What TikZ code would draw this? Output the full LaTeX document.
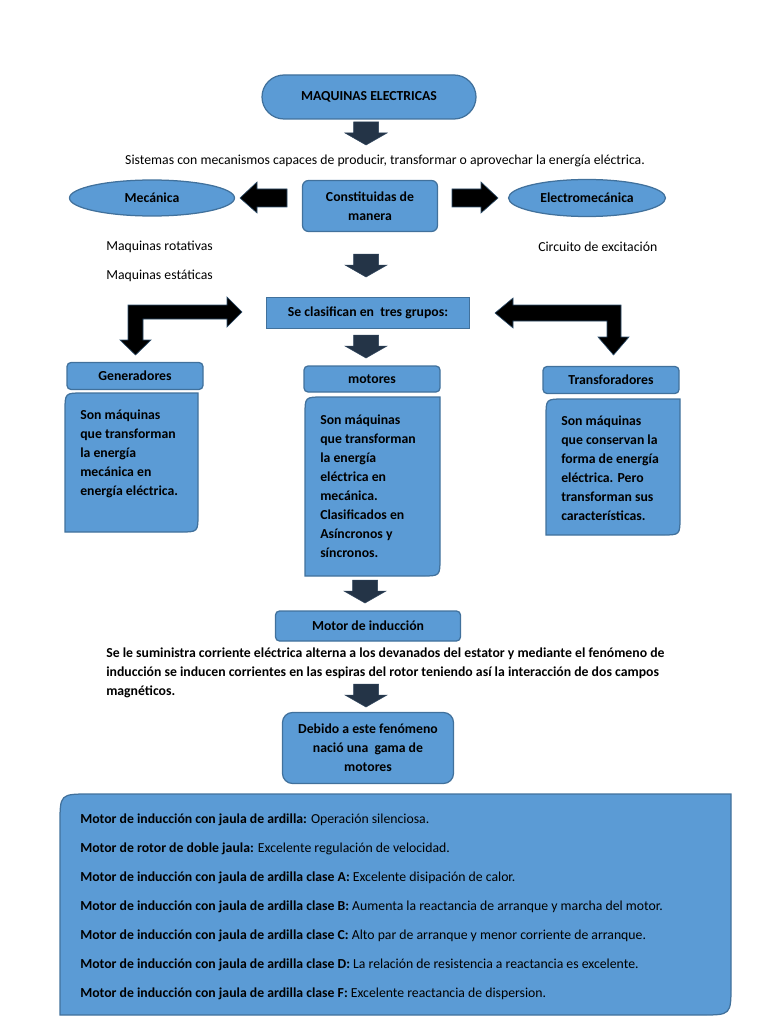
\documentclass[tikz,border=0pt]{standalone}
\usepackage{fontspec}
\setmainfont{Carlito}
\usetikzlibrary{shapes.geometric}
\definecolor{azul}{HTML}{5B9BD5}
\definecolor{borde}{HTML}{41719C}
\definecolor{oscuro}{HTML}{243447}
\newlength\px
\setlength\px{0.8pt}
\newcommand{\letra}{\fontsize{11pt}{15.2pt}\selectfont}
\tikzset{
  caja/.style={draw=borde, fill=azul, line width=1pt, rounded corners=4\px, font=\letra\bfseries, align=center, inner sep=0pt},
  ovalo/.style={draw=borde, fill=azul, line width=1pt, ellipse, font=\letra\bfseries, inner sep=0pt},
  fondo/.style={draw=borde, fill=azul, line width=1pt},
  flecha/.style={fill=oscuro, draw=oscuro!80!borde, line width=0.4pt},
  flechanegra/.style={fill=black, draw=borde!70!black, line width=0.5pt},
  texto/.style={align=left, inner sep=0pt, anchor=west},
  negrita/.style={texto, font=\letra\bfseries, anchor=north west},
}
% flecha de bloque hacia abajo, #1 = centro superior
\newcommand{\flechaabajo}[1]{
  \draw[flecha, shift={(#1)}] (-12.5,0) -- (12.5,0) -- (12.5,11) -- (21,11)
    -- (0,23) -- (-21,11) -- (-12.5,11) -- cycle;
}
% recuadro con esquinas superior izquierda e inferior derecha redondeadas
\newcommand{\recuadro}[5]{
  \draw[fondo] (#1,#4) -- (#1,#2+#5) .. controls (#1,#2) .. (#1+#5,#2) -- (#3,#2)
    -- (#3,#4-#5) .. controls (#3,#4) .. (#3-#5,#4) -- cycle;
}
\begin{document}
\begin{tikzpicture}[x=0.8pt, y=-0.8pt, font=\letra]

  \useasboundingbox (0,0) rectangle (768,1024);

  % parte superior
  \node[caja, rounded corners=22\px, minimum width=214\px, minimum height=44\px] (maquinas) at (369,97) {MAQUINAS ELECTRICAS};
  \flechaabajo{366,122}
  \node[inner sep=0pt] (sistemas) at (385,161) {Sistemas con mecanismos capaces de producir, transformar o aprovechar la energía eléctrica.};

  \node[ovalo, minimum width=165\px, minimum height=36\px] (mecanica) at (152,198) {Mecánica};
  \node[caja, rounded corners=6\px, minimum width=135\px, minimum height=51\px] (constituidas) at (370,206) {Constituidas de\\manera};
  \node[ovalo, minimum width=157\px, minimum height=37\px] (electromecanica) at (587,198) {Electromecánica};

  \draw[flechanegra] (287,189) -- (257,189) -- (257,182) -- (240,198) -- (257,213) -- (257,207) -- (287,207) -- cycle;
  \draw[flechanegra] (452,189) -- (481,189) -- (481,182) -- (498,198) -- (481,213) -- (481,207) -- (452,207) -- cycle;

  \node[texto] (rotativas) at (106,247) {Maquinas rotativas};
  \node[texto] (estaticas) at (106,276) {Maquinas estáticas};
  \node[texto] (circuito) at (538,247) {Circuito de excitación};

  \flechaabajo{366,254}

  % clasificacion
  \node[caja, rounded corners=0pt, minimum width=203\px, minimum height=31\px] (clasifican) at (368,313) {Se clasifican en \ tres grupos:};

  \draw[flechanegra] (128,305) -- (227,305) -- (227,297) -- (242,312) -- (227,327) -- (227,319)
    -- (143,319) -- (143,340) -- (151,340) -- (135.5,355) -- (120,340) -- (128,340) -- cycle;
  \draw[flechanegra] (621,305) -- (513,305) -- (513,298) -- (495,313) -- (513,328) -- (513,321)
    -- (607,321) -- (607,337) -- (598,337) -- (613.5,355) -- (629,337) -- (621,337) -- cycle;
  \flechaabajo{366,335}

  \node[caja, minimum width=136\px, minimum height=27\px] (generadores) at (135,376) {Generadores};
  \node[caja, minimum width=136\px, minimum height=26\px] (motores) at (372,379) {motores};
  \node[caja, minimum width=136\px, minimum height=27\px] (transformadores) at (611,380) {Transforadores};

  \recuadro{65}{393}{198}{532}{18}
  \node[negrita] (txtgen) at (80,410) {Son máquinas\\que transforman\\la energía\\mecánica en\\energía eléctrica.};
  \recuadro{305}{397}{440}{576}{18}
  \node[negrita] (txtmot) at (320,415) {Son máquinas\\que transforman\\la energía\\eléctrica en\\mecánica.\\Clasificados en\\Asíncronos y\\síncronos.};
  \recuadro{546}{399}{680}{535}{18}
  \node[negrita] (txttra) at (561,416) {Son máquinas\\que conservan la\\forma de energía\\eléctrica. Pero\\transforman sus\\características.};

  % motor de induccion
  \flechaabajo{365,580}
  \node[caja, minimum width=185\px, minimum height=30\px] (induccion) at (368,626) {Motor de inducción};
  \node[negrita] (parrafo) at (106,648) {Se le suministra corriente eléctrica alterna a los devanados del estator y mediante el fenómeno de\\inducción se inducen corrientes en las espiras del rotor teniendo así la interacción de dos campos\\magnéticos.};
  \flechaabajo{366,684}
  \node[caja, rounded corners=10\px, minimum width=171\px, minimum height=71\px] (debido) at (368,748) {Debido a este fenómeno\\nació una \ gama de\\motores};

  % tipos de motores
  \recuadro{60}{794}{731}{1015}{30}
  \node[texto] (tipoa) at (80,820) {\textbf{Motor de inducción con jaula de ardilla:} Operación silenciosa.};
  \node[texto] (tipob) at (80,849) {\textbf{Motor de rotor de doble jaula:} Excelente regulación de velocidad.};
  \node[texto] (tipoc) at (80,878) {\textbf{Motor de inducción con jaula de ardilla clase A:} Excelente disipación de calor.};
  \node[texto] (tipod) at (80,907) {\textbf{Motor de inducción con jaula de ardilla clase B:} Aumenta la reactancia de arranque y marcha del motor.};
  \node[texto] (tipoe) at (80,936) {\textbf{Motor de inducción con jaula de ardilla clase C:} Alto par de arranque y menor corriente de arranque.};
  \node[texto] (tipof) at (80,965) {\textbf{Motor de inducción con jaula de ardilla clase D:} La relación de resistencia a reactancia es excelente.};
  \node[texto] (tipog) at (80,994) {\textbf{Motor de inducción con jaula de ardilla clase F:} Excelente reactancia de dispersion.};

\end{tikzpicture}
\end{document}
